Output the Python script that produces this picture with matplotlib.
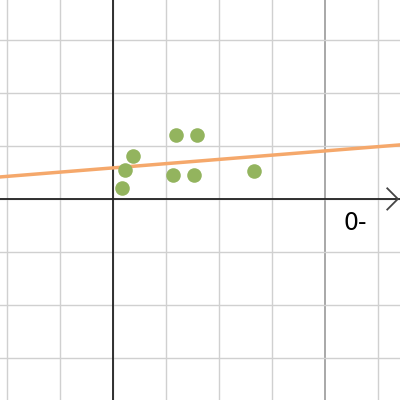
import matplotlib
matplotlib.use("Agg")
import matplotlib.pyplot as plt
import numpy as np

xs = [0.17, 0.23, 0.38, 1.19, 1.58, 1.13, 1.53, 2.66]
ys = [0.21, 0.55, 0.81, 1.21, 1.21, 0.45, 0.45, 0.53]
slope = 0.08
intercept = 0.585
label = "0-"

fig = plt.figure(figsize=(4, 4), dpi=100)
ax = fig.add_axes([0, 0, 1, 1])
x0, x1 = -2.13, 5.42
y0, y1 = -3.79, 3.75
ax.set_xlim(x0, x1); ax.set_ylim(y0, y1)
ax.axis("off")
for g in range(-2, 6):
    ax.axvline(g, color="#999999" if g == 4 else "#d0d0d0", lw=1.2 if g == 4 else 1, zorder=0)
for g in range(-3, 4):
    ax.axhline(g, color="#d0d0d0", lw=1, zorder=0)
ax.axvline(0, color="#222222", lw=1.3, zorder=1)
ax.axhline(0, color="#222222", lw=1.3, zorder=1)
ax.plot([5.18, 5.38, 5.18], [0.2, 0, -0.2], color="#444444", lw=1.3, zorder=1)
lx = np.array([x0, x1])
ax.plot(lx, slope * lx + intercept, color="#f5a86b", lw=2.5, zorder=2)
ax.scatter(xs, ys, s=110, color="#93b45e", zorder=3, linewidths=0)
ax.text(4.58, -0.45, label, fontsize=17, ha="center", va="center", color="black")
fig.savefig("out.png", dpi=100)
